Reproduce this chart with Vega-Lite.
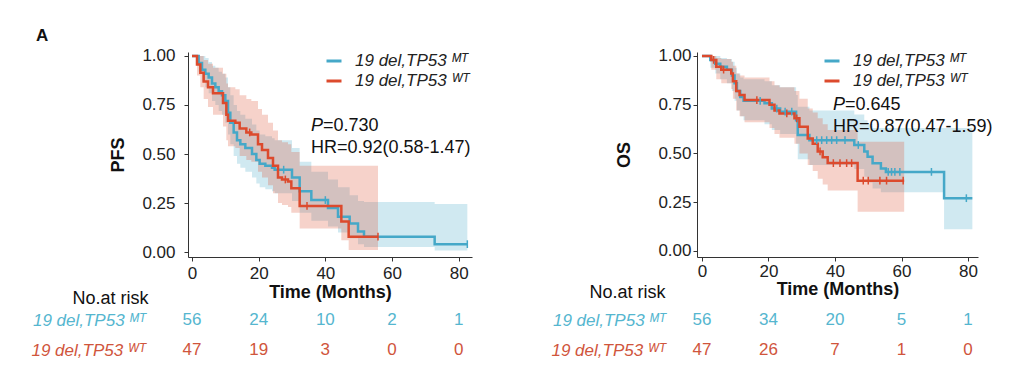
{
  "$schema": "https://vega.github.io/schema/vega-lite/v6.json",
  "background": "white",
  "padding": {"left": 30, "top": 26, "right": 0, "bottom": 0},
  "config": {
    "view": {"stroke": null},
    "font": "Liberation Sans",
    "axis": {"grid": false, "domainColor": "#333333", "tickColor": "#333333", "labelColor": "#222222", "titleColor": "#111111", "labelFontSize": 17, "titleFontSize": 18, "titleFontWeight": "bold", "labelFont": "Liberation Sans", "titleFont": "Liberation Sans"},
    "legend": {"labelFont": "Liberation Sans"},
    "text": {"font": "Liberation Sans"}
  },
  "datasets": {
    "km": [
      {"panel":"PFS","grp":"MT","t":0,"s":1,"lo":1,"hi":1},
      {"panel":"PFS","grp":"MT","t":2,"s":0.964,"lo":0.92,"hi":1},
      {"panel":"PFS","grp":"MT","t":3,"s":0.93,"lo":0.87,"hi":1},
      {"panel":"PFS","grp":"MT","t":4,"s":0.91,"lo":0.84,"hi":0.99},
      {"panel":"PFS","grp":"MT","t":5,"s":0.89,"lo":0.81,"hi":0.97},
      {"panel":"PFS","grp":"MT","t":6,"s":0.86,"lo":0.77,"hi":0.95},
      {"panel":"PFS","grp":"MT","t":7,"s":0.84,"lo":0.75,"hi":0.94},
      {"panel":"PFS","grp":"MT","t":8,"s":0.82,"lo":0.72,"hi":0.92},
      {"panel":"PFS","grp":"MT","t":9,"s":0.8,"lo":0.7,"hi":0.91},
      {"panel":"PFS","grp":"MT","t":10,"s":0.77,"lo":0.66,"hi":0.89},
      {"panel":"PFS","grp":"MT","t":10.8,"s":0.71,"lo":0.6,"hi":0.84},
      {"panel":"PFS","grp":"MT","t":11.5,"s":0.66,"lo":0.55,"hi":0.8},
      {"panel":"PFS","grp":"MT","t":12.5,"s":0.61,"lo":0.49,"hi":0.75},
      {"panel":"PFS","grp":"MT","t":13.5,"s":0.57,"lo":0.45,"hi":0.72},
      {"panel":"PFS","grp":"MT","t":14.5,"s":0.55,"lo":0.43,"hi":0.7},
      {"panel":"PFS","grp":"MT","t":16,"s":0.53,"lo":0.41,"hi":0.68},
      {"panel":"PFS","grp":"MT","t":18,"s":0.5,"lo":0.38,"hi":0.65},
      {"panel":"PFS","grp":"MT","t":19.3,"s":0.47,"lo":0.35,"hi":0.62},
      {"panel":"PFS","grp":"MT","t":20.3,"s":0.45,"lo":0.33,"hi":0.6},
      {"panel":"PFS","grp":"MT","t":22,"s":0.44,"lo":0.32,"hi":0.59},
      {"panel":"PFS","grp":"MT","t":24,"s":0.43,"lo":0.31,"hi":0.58},
      {"panel":"PFS","grp":"MT","t":24.8,"s":0.42,"lo":0.3,"hi":0.57},
      {"panel":"PFS","grp":"MT","t":30,"s":0.38,"lo":0.26,"hi":0.53},
      {"panel":"PFS","grp":"MT","t":32.3,"s":0.31,"lo":0.2,"hi":0.46},
      {"panel":"PFS","grp":"MT","t":35.8,"s":0.265,"lo":0.16,"hi":0.41},
      {"panel":"PFS","grp":"MT","t":40.8,"s":0.225,"lo":0.13,"hi":0.37},
      {"panel":"PFS","grp":"MT","t":43.8,"s":0.18,"lo":0.1,"hi":0.33},
      {"panel":"PFS","grp":"MT","t":47.3,"s":0.146,"lo":0.07,"hi":0.29},
      {"panel":"PFS","grp":"MT","t":49.8,"s":0.104,"lo":0.04,"hi":0.26},
      {"panel":"PFS","grp":"MT","t":51.6,"s":0.078,"lo":0.025,"hi":0.255},
      {"panel":"PFS","grp":"MT","t":72.8,"s":0.04,"lo":0.008,"hi":0.245},
      {"panel":"PFS","grp":"MT","t":82.6,"s":0.04,"lo":0.008,"hi":0.245},
      {"panel":"PFS","grp":"WT","t":0,"s":1,"lo":1,"hi":1},
      {"panel":"PFS","grp":"WT","t":1.5,"s":0.957,"lo":0.9,"hi":1},
      {"panel":"PFS","grp":"WT","t":2.5,"s":0.915,"lo":0.84,"hi":1},
      {"panel":"PFS","grp":"WT","t":3.5,"s":0.87,"lo":0.78,"hi":0.98},
      {"panel":"PFS","grp":"WT","t":4.8,"s":0.84,"lo":0.74,"hi":0.96},
      {"panel":"PFS","grp":"WT","t":6.3,"s":0.81,"lo":0.7,"hi":0.94},
      {"panel":"PFS","grp":"WT","t":9.3,"s":0.76,"lo":0.64,"hi":0.91},
      {"panel":"PFS","grp":"WT","t":10.3,"s":0.7,"lo":0.57,"hi":0.86},
      {"panel":"PFS","grp":"WT","t":10.8,"s":0.67,"lo":0.54,"hi":0.84},
      {"panel":"PFS","grp":"WT","t":13,"s":0.66,"lo":0.53,"hi":0.83},
      {"panel":"PFS","grp":"WT","t":14.3,"s":0.63,"lo":0.49,"hi":0.8},
      {"panel":"PFS","grp":"WT","t":16.3,"s":0.61,"lo":0.47,"hi":0.78},
      {"panel":"PFS","grp":"WT","t":17.8,"s":0.6,"lo":0.46,"hi":0.77},
      {"panel":"PFS","grp":"WT","t":19.8,"s":0.55,"lo":0.41,"hi":0.73},
      {"panel":"PFS","grp":"WT","t":21,"s":0.52,"lo":0.38,"hi":0.7},
      {"panel":"PFS","grp":"WT","t":22.8,"s":0.48,"lo":0.34,"hi":0.66},
      {"panel":"PFS","grp":"WT","t":24.3,"s":0.44,"lo":0.3,"hi":0.62},
      {"panel":"PFS","grp":"WT","t":25.8,"s":0.38,"lo":0.25,"hi":0.57},
      {"panel":"PFS","grp":"WT","t":27,"s":0.37,"lo":0.24,"hi":0.56},
      {"panel":"PFS","grp":"WT","t":28.8,"s":0.36,"lo":0.23,"hi":0.55},
      {"panel":"PFS","grp":"WT","t":29.8,"s":0.325,"lo":0.2,"hi":0.51},
      {"panel":"PFS","grp":"WT","t":32.3,"s":0.235,"lo":0.12,"hi":0.44},
      {"panel":"PFS","grp":"WT","t":44.8,"s":0.155,"lo":0.06,"hi":0.44},
      {"panel":"PFS","grp":"WT","t":47,"s":0.078,"lo":0.01,"hi":0.44},
      {"panel":"PFS","grp":"WT","t":55.8,"s":0.078,"lo":0.01,"hi":0.44},
      {"panel":"OS","grp":"MT","t":0,"s":1,"lo":1,"hi":1},
      {"panel":"OS","grp":"MT","t":2.5,"s":0.98,"lo":0.94,"hi":1},
      {"panel":"OS","grp":"MT","t":4,"s":0.96,"lo":0.91,"hi":1},
      {"panel":"OS","grp":"MT","t":5.5,"s":0.945,"lo":0.88,"hi":0.99},
      {"panel":"OS","grp":"MT","t":7.5,"s":0.93,"lo":0.86,"hi":0.985},
      {"panel":"OS","grp":"MT","t":9,"s":0.9,"lo":0.82,"hi":0.97},
      {"panel":"OS","grp":"MT","t":9.8,"s":0.86,"lo":0.77,"hi":0.94},
      {"panel":"OS","grp":"MT","t":10.5,"s":0.82,"lo":0.72,"hi":0.91},
      {"panel":"OS","grp":"MT","t":11.5,"s":0.79,"lo":0.69,"hi":0.89},
      {"panel":"OS","grp":"MT","t":12.5,"s":0.77,"lo":0.67,"hi":0.88},
      {"panel":"OS","grp":"MT","t":18.8,"s":0.757,"lo":0.65,"hi":0.87},
      {"panel":"OS","grp":"MT","t":21,"s":0.73,"lo":0.62,"hi":0.85},
      {"panel":"OS","grp":"MT","t":23.5,"s":0.714,"lo":0.6,"hi":0.84},
      {"panel":"OS","grp":"MT","t":28.3,"s":0.67,"lo":0.55,"hi":0.8},
      {"panel":"OS","grp":"MT","t":28.8,"s":0.594,"lo":0.47,"hi":0.74},
      {"panel":"OS","grp":"MT","t":32.3,"s":0.568,"lo":0.44,"hi":0.72},
      {"panel":"OS","grp":"MT","t":45.8,"s":0.543,"lo":0.42,"hi":0.7},
      {"panel":"OS","grp":"MT","t":48.8,"s":0.51,"lo":0.38,"hi":0.67},
      {"panel":"OS","grp":"MT","t":49.8,"s":0.483,"lo":0.35,"hi":0.65},
      {"panel":"OS","grp":"MT","t":51.3,"s":0.449,"lo":0.32,"hi":0.63},
      {"panel":"OS","grp":"MT","t":53.8,"s":0.423,"lo":0.3,"hi":0.63},
      {"panel":"OS","grp":"MT","t":55.3,"s":0.405,"lo":0.3,"hi":0.63},
      {"panel":"OS","grp":"MT","t":72.8,"s":0.27,"lo":0.11,"hi":0.63},
      {"panel":"OS","grp":"MT","t":81.3,"s":0.27,"lo":0.11,"hi":0.63},
      {"panel":"OS","grp":"WT","t":0,"s":1,"lo":1,"hi":1},
      {"panel":"OS","grp":"WT","t":2.8,"s":0.98,"lo":0.93,"hi":1},
      {"panel":"OS","grp":"WT","t":4.3,"s":0.945,"lo":0.88,"hi":0.99},
      {"panel":"OS","grp":"WT","t":5.8,"s":0.93,"lo":0.86,"hi":0.985},
      {"panel":"OS","grp":"WT","t":8.8,"s":0.91,"lo":0.83,"hi":0.97},
      {"panel":"OS","grp":"WT","t":9.3,"s":0.87,"lo":0.78,"hi":0.95},
      {"panel":"OS","grp":"WT","t":10.3,"s":0.82,"lo":0.72,"hi":0.91},
      {"panel":"OS","grp":"WT","t":11.3,"s":0.8,"lo":0.69,"hi":0.9},
      {"panel":"OS","grp":"WT","t":12.8,"s":0.774,"lo":0.66,"hi":0.89},
      {"panel":"OS","grp":"WT","t":20.3,"s":0.75,"lo":0.63,"hi":0.87},
      {"panel":"OS","grp":"WT","t":21.8,"s":0.72,"lo":0.6,"hi":0.85},
      {"panel":"OS","grp":"WT","t":23.3,"s":0.705,"lo":0.58,"hi":0.84},
      {"panel":"OS","grp":"WT","t":27.8,"s":0.68,"lo":0.55,"hi":0.82},
      {"panel":"OS","grp":"WT","t":29.3,"s":0.637,"lo":0.5,"hi":0.78},
      {"panel":"OS","grp":"WT","t":31.8,"s":0.577,"lo":0.44,"hi":0.73},
      {"panel":"OS","grp":"WT","t":33.3,"s":0.55,"lo":0.41,"hi":0.71},
      {"panel":"OS","grp":"WT","t":34.8,"s":0.51,"lo":0.37,"hi":0.68},
      {"panel":"OS","grp":"WT","t":36.3,"s":0.48,"lo":0.34,"hi":0.65},
      {"panel":"OS","grp":"WT","t":37.8,"s":0.45,"lo":0.31,"hi":0.62},
      {"panel":"OS","grp":"WT","t":46.8,"s":0.36,"lo":0.2,"hi":0.56},
      {"panel":"OS","grp":"WT","t":60.8,"s":0.36,"lo":0.2,"hi":0.56}
    ],
    "censor": [
      {"panel":"PFS","grp":"MT","t":27.5,"s":0.42},
      {"panel":"PFS","grp":"MT","t":40,"s":0.265},
      {"panel":"PFS","grp":"MT","t":82.6,"s":0.04},
      {"panel":"PFS","grp":"WT","t":17.3,"s":0.61},
      {"panel":"PFS","grp":"WT","t":28,"s":0.37},
      {"panel":"PFS","grp":"WT","t":34.5,"s":0.235},
      {"panel":"PFS","grp":"WT","t":55.8,"s":0.078},
      {"panel":"OS","grp":"MT","t":17.5,"s":0.77},
      {"panel":"OS","grp":"MT","t":22.5,"s":0.73},
      {"panel":"OS","grp":"MT","t":25,"s":0.714},
      {"panel":"OS","grp":"MT","t":27,"s":0.714},
      {"panel":"OS","grp":"MT","t":34.5,"s":0.568},
      {"panel":"OS","grp":"MT","t":36,"s":0.568},
      {"panel":"OS","grp":"MT","t":37.5,"s":0.568},
      {"panel":"OS","grp":"MT","t":39,"s":0.568},
      {"panel":"OS","grp":"MT","t":40.5,"s":0.568},
      {"panel":"OS","grp":"MT","t":43,"s":0.568},
      {"panel":"OS","grp":"MT","t":47,"s":0.543},
      {"panel":"OS","grp":"MT","t":56,"s":0.405},
      {"panel":"OS","grp":"MT","t":57,"s":0.405},
      {"panel":"OS","grp":"MT","t":58,"s":0.405},
      {"panel":"OS","grp":"MT","t":59.5,"s":0.405},
      {"panel":"OS","grp":"MT","t":69,"s":0.405},
      {"panel":"OS","grp":"MT","t":79.5,"s":0.27},
      {"panel":"OS","grp":"WT","t":3.5,"s":0.98},
      {"panel":"OS","grp":"WT","t":6.5,"s":0.93},
      {"panel":"OS","grp":"WT","t":16.5,"s":0.774},
      {"panel":"OS","grp":"WT","t":25.5,"s":0.705},
      {"panel":"OS","grp":"WT","t":28.5,"s":0.68},
      {"panel":"OS","grp":"WT","t":35.5,"s":0.51},
      {"panel":"OS","grp":"WT","t":39.5,"s":0.45},
      {"panel":"OS","grp":"WT","t":41.5,"s":0.45},
      {"panel":"OS","grp":"WT","t":43.5,"s":0.45},
      {"panel":"OS","grp":"WT","t":45,"s":0.45},
      {"panel":"OS","grp":"WT","t":48.5,"s":0.36},
      {"panel":"OS","grp":"WT","t":50,"s":0.36},
      {"panel":"OS","grp":"WT","t":53.5,"s":0.36},
      {"panel":"OS","grp":"WT","t":55.5,"s":0.36},
      {"panel":"OS","grp":"WT","t":60.5,"s":0.36}
    ],
    "annot": [
      {"panel":"PFS","kind":"p","t":39.3,"s":0.643,"txt":"=0.730"},
      {"panel":"PFS","kind":"hr","t":35.7,"s":0.532,"txt":"HR=0.92(0.58-1.47)"},
      {"panel":"OS","kind":"p","t":43.0,"s":0.748,"txt":"=0.645"},
      {"panel":"OS","kind":"hr","t":39.4,"s":0.637,"txt":"HR=0.87(0.47-1.59)"}
    ],
    "risk": [
      {"panel":"PFS","grp":"MT","t":0,"n":56},
      {"panel":"PFS","grp":"MT","t":20,"n":24},
      {"panel":"PFS","grp":"MT","t":40,"n":10},
      {"panel":"PFS","grp":"MT","t":60,"n":2},
      {"panel":"PFS","grp":"MT","t":80,"n":1},
      {"panel":"PFS","grp":"WT","t":0,"n":47},
      {"panel":"PFS","grp":"WT","t":20,"n":19},
      {"panel":"PFS","grp":"WT","t":40,"n":3},
      {"panel":"PFS","grp":"WT","t":60,"n":0},
      {"panel":"PFS","grp":"WT","t":80,"n":0},
      {"panel":"OS","grp":"MT","t":0,"n":56},
      {"panel":"OS","grp":"MT","t":20,"n":34},
      {"panel":"OS","grp":"MT","t":40,"n":20},
      {"panel":"OS","grp":"MT","t":60,"n":5},
      {"panel":"OS","grp":"MT","t":80,"n":1},
      {"panel":"OS","grp":"WT","t":0,"n":47},
      {"panel":"OS","grp":"WT","t":20,"n":26},
      {"panel":"OS","grp":"WT","t":40,"n":7},
      {"panel":"OS","grp":"WT","t":60,"n":1},
      {"panel":"OS","grp":"WT","t":80,"n":0}
    ]
  },
  "bounds": "flush",
  "columns": 2,
  "spacing": {"row": 48, "column": 225},
  "resolve": {"scale": {"color": "independent"}, "legend": {"color": "independent"}},
  "concat": [
    {
      "width": 284,
      "height": 205,
      "title": {"text": "A", "anchor": "start", "frame": "group", "dx": -152, "offset": 2, "fontSize": 17, "fontWeight": "bold", "color": "#111111", "font": "Liberation Sans"},
      "encoding": {
        "x": {"field": "t", "type": "quantitative", "scale": {"domain": [-1.2, 84], "nice": false, "zero": false},
              "axis": {"title": "Time (Months)", "values": [0, 20, 40, 60, 80], "tickSize": 4, "labelPadding": 4, "titlePadding": 2}},
        "y": {"field": "s", "type": "quantitative", "scale": {"domain": [-0.0255, 1.0204], "nice": false, "zero": false},
              "axis": {"title": "PFS", "values": [0, 0.25, 0.5, 0.75, 1], "format": ".2f", "tickSize": 4, "labelPadding": 9, "titlePadding": 14}},
        "color": {"field": "grp", "type": "nominal", "scale": {"domain": ["MT", "WT"], "range": ["#45A8C8", "#DC4A2D"]},
                  "legend": {"orient": "none", "legendX": 137, "legendY": 0, "title": null, "symbolType": "stroke", "symbolStrokeWidth": 3, "symbolSize": 225, "symbolOpacity": 1, "labelFontSize": 17, "labelFontStyle": "italic", "labelOffset": 12, "rowPadding": 3, "labelColor": "#222222",
                             "labelExpr": "datum.value == 'MT' ? '19 del,TP53 ᴹᵀ' : '19 del,TP53 ᵂᵀ'"}}
      },
      "layer": [
        {
          "data": {"name": "km"},
          "transform": [{"filter": "datum.panel === 'PFS'"}],
          "mark": {"type": "area", "interpolate": "step-after", "opacity": 0.25},
          "encoding": {
            "y": {"field": "lo", "type": "quantitative", "scale": {"domain": [-0.0255, 1.0204], "nice": false, "zero": false},
                  "axis": {"title": "PFS", "values": [0, 0.25, 0.5, 0.75, 1], "format": ".2f", "tickSize": 4, "labelPadding": 9, "titlePadding": 14}},
            "y2": {"field": "hi"}
          }
        },
        {
          "data": {"name": "km"},
          "transform": [{"filter": "datum.panel === 'PFS'"}],
          "mark": {"type": "line", "interpolate": "step-after", "strokeWidth": 2.5}
        },
        {
          "data": {"name": "censor"},
          "transform": [{"filter": "datum.panel === 'PFS'"}],
          "mark": {"type": "point", "shape": "M0,-1L0,1", "size": 60, "filled": false, "strokeWidth": 1.5, "opacity": 1}
        },
        {
          "data": {"name": "annot"},
          "transform": [{"filter": "datum.panel === 'PFS'"}],
          "mark": {"type": "text", "align": "left", "baseline": "middle", "fontSize": 18},
          "encoding": {"text": {"field": "txt"}, "color": {"value": "#111111"}}
        },
        {
          "data": {"name": "annot"},
          "transform": [{"filter": "datum.panel === 'PFS' && datum.kind === 'p'"}],
          "mark": {"type": "text", "align": "right", "baseline": "middle", "fontSize": 18, "fontStyle": "italic", "text": "P"},
          "encoding": {"color": {"value": "#111111"}}
        }
      ]
    },
    {
      "width": 281,
      "height": 205,
      "encoding": {
        "x": {"field": "t", "type": "quantitative", "scale": {"domain": [-1.5, 83], "nice": false, "zero": false},
              "axis": {"title": "Time (Months)", "values": [0, 20, 40, 60, 80], "tickSize": 4, "labelPadding": 2, "titlePadding": 1}},
        "y": {"field": "s", "type": "quantitative", "scale": {"domain": [-0.032, 1.0205], "nice": false, "zero": false},
              "axis": {"title": "OS", "values": [0, 0.25, 0.5, 0.75, 1], "format": ".2f", "tickSize": 4, "labelPadding": 2, "titlePadding": 24}},
        "color": {"field": "grp", "type": "nominal", "scale": {"domain": ["MT", "WT"], "range": ["#45A8C8", "#DC4A2D"]},
                  "legend": {"orient": "none", "legendX": 126, "legendY": 0, "title": null, "symbolType": "stroke", "symbolStrokeWidth": 3, "symbolSize": 225, "symbolOpacity": 1, "labelFontSize": 17, "labelFontStyle": "italic", "labelOffset": 12, "rowPadding": 3, "labelColor": "#222222",
                             "labelExpr": "datum.value == 'MT' ? '19 del,TP53 ᴹᵀ' : '19 del,TP53 ᵂᵀ'"}}
      },
      "layer": [
        {
          "data": {"name": "km"},
          "transform": [{"filter": "datum.panel === 'OS'"}],
          "mark": {"type": "area", "interpolate": "step-after", "opacity": 0.25},
          "encoding": {
            "y": {"field": "lo", "type": "quantitative", "scale": {"domain": [-0.032, 1.0205], "nice": false, "zero": false},
                  "axis": {"title": "OS", "values": [0, 0.25, 0.5, 0.75, 1], "format": ".2f", "tickSize": 4, "labelPadding": 2, "titlePadding": 24}},
            "y2": {"field": "hi"}
          }
        },
        {
          "data": {"name": "km"},
          "transform": [{"filter": "datum.panel === 'OS'"}],
          "mark": {"type": "line", "interpolate": "step-after", "strokeWidth": 2.5}
        },
        {
          "data": {"name": "censor"},
          "transform": [{"filter": "datum.panel === 'OS'"}],
          "mark": {"type": "point", "shape": "M0,-1L0,1", "size": 60, "filled": false, "strokeWidth": 1.5, "opacity": 1}
        },
        {
          "data": {"name": "annot"},
          "transform": [{"filter": "datum.panel === 'OS'"}],
          "mark": {"type": "text", "align": "left", "baseline": "middle", "fontSize": 18},
          "encoding": {"text": {"field": "txt"}, "color": {"value": "#111111"}}
        },
        {
          "data": {"name": "annot"},
          "transform": [{"filter": "datum.panel === 'OS' && datum.kind === 'p'"}],
          "mark": {"type": "text", "align": "right", "baseline": "middle", "fontSize": 18, "fontStyle": "italic", "text": "P"},
          "encoding": {"color": {"value": "#111111"}}
        }
      ]
    },
    {
      "width": 284,
      "height": 60,
      "data": {"name": "risk"},
      "transform": [{"filter": "datum.panel === 'PFS'"}],
      "mark": {"type": "text", "fontSize": 17, "baseline": "middle"},
      "encoding": {
        "x": {"field": "t", "type": "quantitative", "scale": {"domain": [-1.2, 84], "nice": false, "zero": false}, "axis": null},
        "y": {"field": "grp", "type": "nominal", "scale": {"domain": ["MT", "WT"]},
              "axis": {"title": "No.at risk", "titleAngle": 0, "titleAlign": "right", "titleBaseline": "middle", "titleX": -40, "titleY": -7, "titleFontWeight": "normal", "titleFontSize": 18,
                       "ticks": false, "domain": false, "labelPadding": 43, "labelFontSize": 17, "labelFontStyle": "italic",
                       "labelExpr": "datum.value == 'MT' ? '19 del,TP53 ᴹᵀ' : '19 del,TP53 ᵂᵀ'",
                       "labelColor": {"expr": "datum.value == 'MT' ? '#55B6CF' : '#D0553C'"}}},
        "text": {"field": "n", "type": "quantitative"},
        "color": {"field": "grp", "type": "nominal", "scale": {"domain": ["MT", "WT"], "range": ["#55B6CF", "#D0553C"]}, "legend": null}
      }
    },
    {
      "width": 281,
      "height": 60,
      "data": {"name": "risk"},
      "transform": [{"filter": "datum.panel === 'OS'"}],
      "mark": {"type": "text", "fontSize": 17, "baseline": "middle"},
      "encoding": {
        "x": {"field": "t", "type": "quantitative", "scale": {"domain": [-1.5, 83], "nice": false, "zero": false}, "axis": null},
        "y": {"field": "grp", "type": "nominal", "scale": {"domain": ["MT", "WT"]},
              "axis": {"title": "No.at risk", "titleAngle": 0, "titleAlign": "right", "titleBaseline": "middle", "titleX": -32, "titleY": -13, "titleFontWeight": "normal", "titleFontSize": 18,
                       "ticks": false, "domain": false, "labelPadding": 32, "labelFontSize": 17, "labelFontStyle": "italic",
                       "labelExpr": "datum.value == 'MT' ? '19 del,TP53 ᴹᵀ' : '19 del,TP53 ᵂᵀ'",
                       "labelColor": {"expr": "datum.value == 'MT' ? '#55B6CF' : '#D0553C'"}}},
        "text": {"field": "n", "type": "quantitative"},
        "color": {"field": "grp", "type": "nominal", "scale": {"domain": ["MT", "WT"], "range": ["#55B6CF", "#D0553C"]}, "legend": null}
      }
    }
  ]
}
